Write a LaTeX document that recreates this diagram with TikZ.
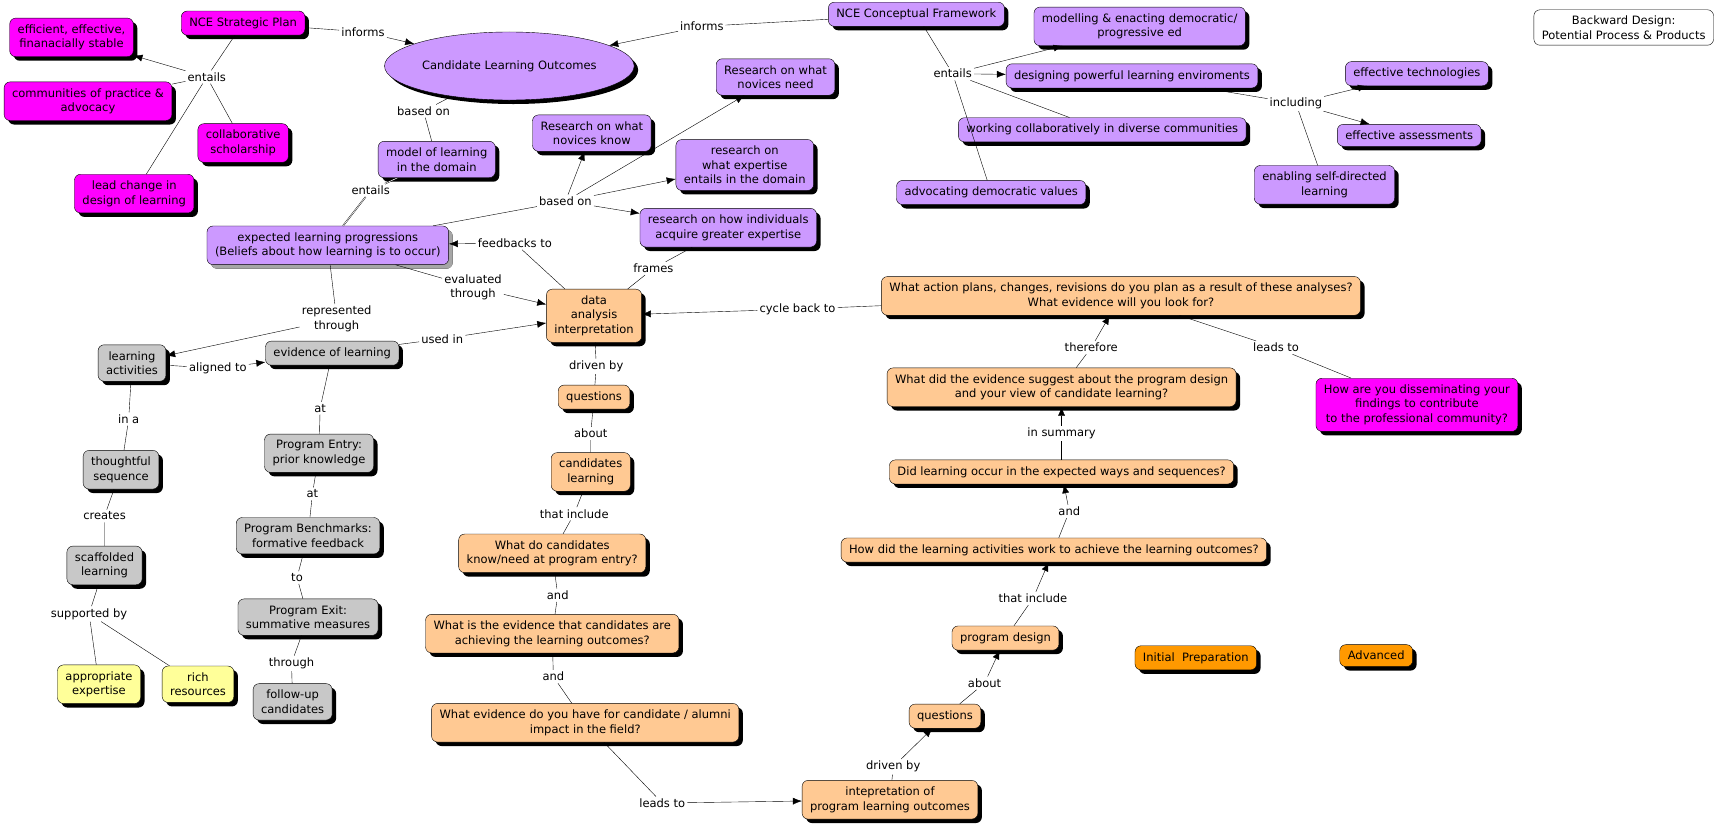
\documentclass[tikz,border=0pt]{standalone}
\usepackage{fontspec}
\setmainfont{DejaVu Sans}
\usetikzlibrary{shadows,shapes.geometric,arrows.meta}
\definecolor{mag}{HTML}{FF00FF}
\definecolor{pur}{HTML}{CC99FF}
\definecolor{org}{HTML}{FFC993}
\definecolor{gry}{HTML}{C8C8C8}
\definecolor{yel}{HTML}{FFFF99}
\definecolor{dorg}{HTML}{FF9900}
\begin{document}
\begin{tikzpicture}[x=1.1pt,y=-1.1pt,
  every node/.style={font=\fontsize{11.5}{14.5}\selectfont},
  box/.style={draw=black, rounded corners=6pt, align=center, inner xsep=8pt, inner ysep=6.5pt,
    drop shadow={shadow xshift=4pt, shadow yshift=-4pt, fill=black, opacity=1}},
  M/.style={box, fill=mag}, P/.style={box, fill=pur}, O/.style={box, fill=org},
  G/.style={box, fill=gry}, Y/.style={box, fill=yel}, D/.style={box, fill=dorg},
  lab/.style={inner sep=2pt, align=center},
  ar/.style={-{Latex[length=9pt,width=7pt]}, thin}, ln/.style={thin}]
\useasboundingbox (0,0) rectangle (1569,752);
% magenta
\node[M] (sp) at (221,21) {NCE Strategic Plan};
\node[M] (eff) at (65,34) {efficient, effective,\\finanacially stable};
\node[M] (cop) at (80,92) {communities of practice \&\\advocacy};
\node[M] (collab) at (221,130) {collaborative\\scholarship};
\node[M] (lead) at (122,176) {lead change in\\design of learning};
\node[M] (dissem) at (1288,368) {How are you disseminating your\\findings to contribute\\to the professional community?};
\node[lab] (ent1) at (188,70) {entails};
\node[lab] (inf1) at (330,29) {informs};
% ellipse
\node[ellipse, draw=black, fill=pur, minimum width=200pt, minimum height=68pt, inner sep=1pt,
  drop shadow={shadow xshift=4pt, shadow yshift=-4pt, fill=black, opacity=1}] (clo) at (463,60) {Candidate Learning Outcomes};
\node[lab] (inf2) at (638,24) {informs};
% purple right
\node[P] (cf) at (833,13) {NCE Conceptual Framework};
\node[P] (mod) at (1036,24) {modelling \& enacting democratic/\\progressive ed};
\node[P] (dpl) at (1029,69) {designing powerful learning enviroments};
\node[P] (wc) at (1002,118) {working collaboratively in diverse communities};
\node[P] (adv) at (901,175) {advocating democratic values};
\node[lab] (ent2) at (866,67) {entails};
\node[P] (eftec) at (1288,67) {effective technologies};
\node[P] (efass) at (1281,123) {effective assessments};
\node[P] (esd) at (1204,168) {enabling self-directed\\learning};
\node[lab] (incl) at (1178,94) {including};
\node[draw=black, rounded corners=6pt, align=center, fill=white, inner xsep=8pt, inner ysep=6pt] (bd) at (1476,25) {Backward Design:\\Potential Process \& Products};
% purple middle
\node[P] (mold) at (397,145) {model of learning\\in the domain};
\node[lab] (bo1) at (385,101) {based on};
\node[lab] (ent3) at (337,173) {entails};
\node[box, fill=pur, drop shadow={shadow xshift=4pt, shadow yshift=-4pt, fill=gray!70, opacity=1}] (elp) at (298,223) {expected learning progressions\\(Beliefs about how learning is to occur)};
\node[lab] (bo2) at (514,183) {based on};
\node[P] (rnk) at (538,121) {Research on what\\novices know};
\node[P] (rnn) at (705,70) {Research on what\\novices need};
\node[P] (rexp) at (677,150) {research on\\what expertise\\entails in the domain};
\node[P] (rind) at (662,207) {research on how individuals\\acquire greater expertise};
% orange
\node[lab] (fb) at (468,221) {feedbacks to};
\node[lab] (frm) at (594,244) {frames};
\node[lab] (evt) at (430,261) {evaluated\\through};
\node[O] (dai) at (540,287) {data\\analysis\\interpretation};
\node[lab] (cyc) at (725,281) {cycle back to};
\node[O] (ap) at (1019,269) {What action plans, changes, revisions do you plan as a result of these analyses?\\What evidence will you look for?};
\node[lab] (lt2) at (1160,316) {leads to};
\node[lab] (thf) at (992,316) {therefore};
\node[O] (wde) at (965,352) {What did the evidence suggest about the program design\\and your view of candidate learning?};
\node[lab] (ins) at (965,394) {in summary};
\node[O] (dlo) at (965,429) {Did learning occur in the expected ways and sequences?};
\node[lab] (and3) at (972,465) {and};
\node[O] (hdl) at (958,500) {How did the learning activities work to achieve the learning outcomes?};
\node[lab] (ti2) at (939,544) {that include};
\node[O] (pd) at (914,580) {program design};
\node[lab] (ab2) at (895,621) {about};
\node[O] (q2) at (859,651) {questions};
\node[lab] (db2) at (812,697) {driven by};
\node[O] (ipl) at (809,727) {intepretation of\\program learning outcomes};
\node[lab] (lt1) at (602,730) {leads to};
\node[D] (ip) at (1087,598) {Initial~~Preparation};
\node[D] (advd) at (1251,596) {Advanced};
% grey
\node[lab] (rep) at (306,290) {represented\\through};
\node[lab] (usd) at (402,308) {used in};
\node[G] (la) at (120,330) {learning\\activities};
\node[lab] (alg) at (198,335) {aligned to};
\node[G] (eol) at (302,321) {evidence of learning};
\node[lab] (at1) at (291,371) {at};
\node[G] (pe) at (290,412) {Program Entry:\\prior knowledge};
\node[lab] (at2) at (284,449) {at};
\node[G] (pb) at (280,487) {Program Benchmarks:\\formative feedback};
\node[lab] (to) at (270,525) {to};
\node[G] (pex) at (280,561) {Program Exit:\\summative measures};
\node[lab] (thr) at (265,603) {through};
\node[G] (fu) at (266,638) {follow-up\\candidates};
\node[lab] (ina) at (117,381) {in a};
\node[G] (ts) at (110,427) {thoughtful\\sequence};
\node[lab] (cre) at (95,469) {creates};
\node[G] (sl) at (95,514) {scaffolded\\learning};
\node[lab] (sup) at (81,558) {supported by};
\node[Y] (ae) at (90,622) {appropriate\\expertise};
\node[Y] (rr) at (180,622) {rich\\resources};
% orange left
\node[lab] (db1) at (542,333) {driven by};
\node[O] (q1) at (540,361) {questions};
\node[lab] (ab1) at (537,394) {about};
\node[O] (cl) at (537,429) {candidates\\learning};
\node[lab] (ti1) at (522,467) {that include};
\node[O] (wdc) at (502,503) {What do candidates\\know/need at program entry?};
\node[lab] (and1) at (507,541) {and};
\node[O] (wie) at (502,576) {What is the evidence that candidates are\\achieving the learning outcomes?};
\node[lab] (and2) at (503,615) {and};
\node[O] (wed) at (532,657) {What evidence do you have for candidate / alumni\\impact in the field?};
% edges
\draw[ln] (sp) -- (ent1); \draw[ar] (ent1) -- (eff); \draw[ln] (ent1) -- (cop);
\draw[ln] (ent1) -- (collab); \draw[ln] (ent1) -- (lead);
\draw[ln] (sp) -- (inf1); \draw[ar] (inf1) -- (clo);
\draw[ln] (cf) -- (inf2); \draw[ar] (inf2) -- (clo);
\draw[ln] (cf) -- (ent2); \draw[ar] (ent2) -- (mod); \draw[ar] (ent2) -- (dpl);
\draw[ln] (ent2) -- (wc); \draw[ln] (ent2) -- (adv);
\draw[ln] (dpl) -- (incl); \draw[ar] (incl) -- (eftec); \draw[ar] (incl) -- (efass); \draw[ln] (incl) -- (esd);
\draw[ln] (clo) -- (bo1); \draw[ln] (bo1) -- (mold);
\draw[ln, double] (mold) -- (ent3); \draw[ln, double] (ent3) -- (elp);
\draw[ln] (elp) -- (bo2); \draw[ar] (bo2) -- (rnk); \draw[ar] (bo2) -- (rnn);
\draw[ar] (bo2) -- (rexp); \draw[ar] (bo2) -- (rind);
\draw[ln] (dai) -- (fb); \draw[ar] (fb) -- (elp);
\draw[ln] (dai) -- (frm); \draw[ln] (frm) -- (rind);
\draw[ln] (elp) -- (evt); \draw[ar] (evt) -- (dai);
\draw[ln] (elp) -- (rep); \draw[ar] (rep) -- (la);
\draw[ln] (eol) -- (usd); \draw[ar] (usd) -- (dai);
\draw[ln] (la) -- (alg); \draw[ar] (alg) -- (eol);
\draw[ln] (eol) -- (at1) -- (pe); \draw[ln] (pe) -- (at2) -- (pb);
\draw[ln] (pb) -- (to) -- (pex); \draw[ln] (pex) -- (thr) -- (fu);
\draw[ln] (la) -- (ina) -- (ts); \draw[ln] (ts) -- (cre) -- (sl);
\draw[ln] (sl) -- (sup); \draw[ln] (sup) -- (ae); \draw[ln] (sup) -- (rr);
\draw[ln] (dai) -- (db1) -- (q1); \draw[ln] (q1) -- (ab1) -- (cl);
\draw[ln] (cl) -- (ti1) -- (wdc); \draw[ln] (wdc) -- (and1) -- (wie);
\draw[ln] (wie) -- (and2) -- (wed); \draw[ln] (wed) -- (lt1); \draw[ar] (lt1) -- (ipl);
\draw[ln] (ipl) -- (db2); \draw[ar] (db2) -- (q2);
\draw[ln] (q2) -- (ab2); \draw[ar] (ab2) -- (pd);
\draw[ln] (pd) -- (ti2); \draw[ar] (ti2) -- (hdl);
\draw[ln] (hdl) -- (and3); \draw[ar] (and3) -- (dlo);
\draw[ln] (dlo) -- (ins); \draw[ar] (ins) -- (wde);
\draw[ln] (wde) -- (thf); \draw[ar] (thf) -- (ap);
\draw[ln] (ap) -- (cyc); \draw[ar] (cyc) -- (dai);
\draw[ln] (ap) -- (lt2); \draw[ln] (lt2) -- (dissem);
\end{tikzpicture}
\end{document}
